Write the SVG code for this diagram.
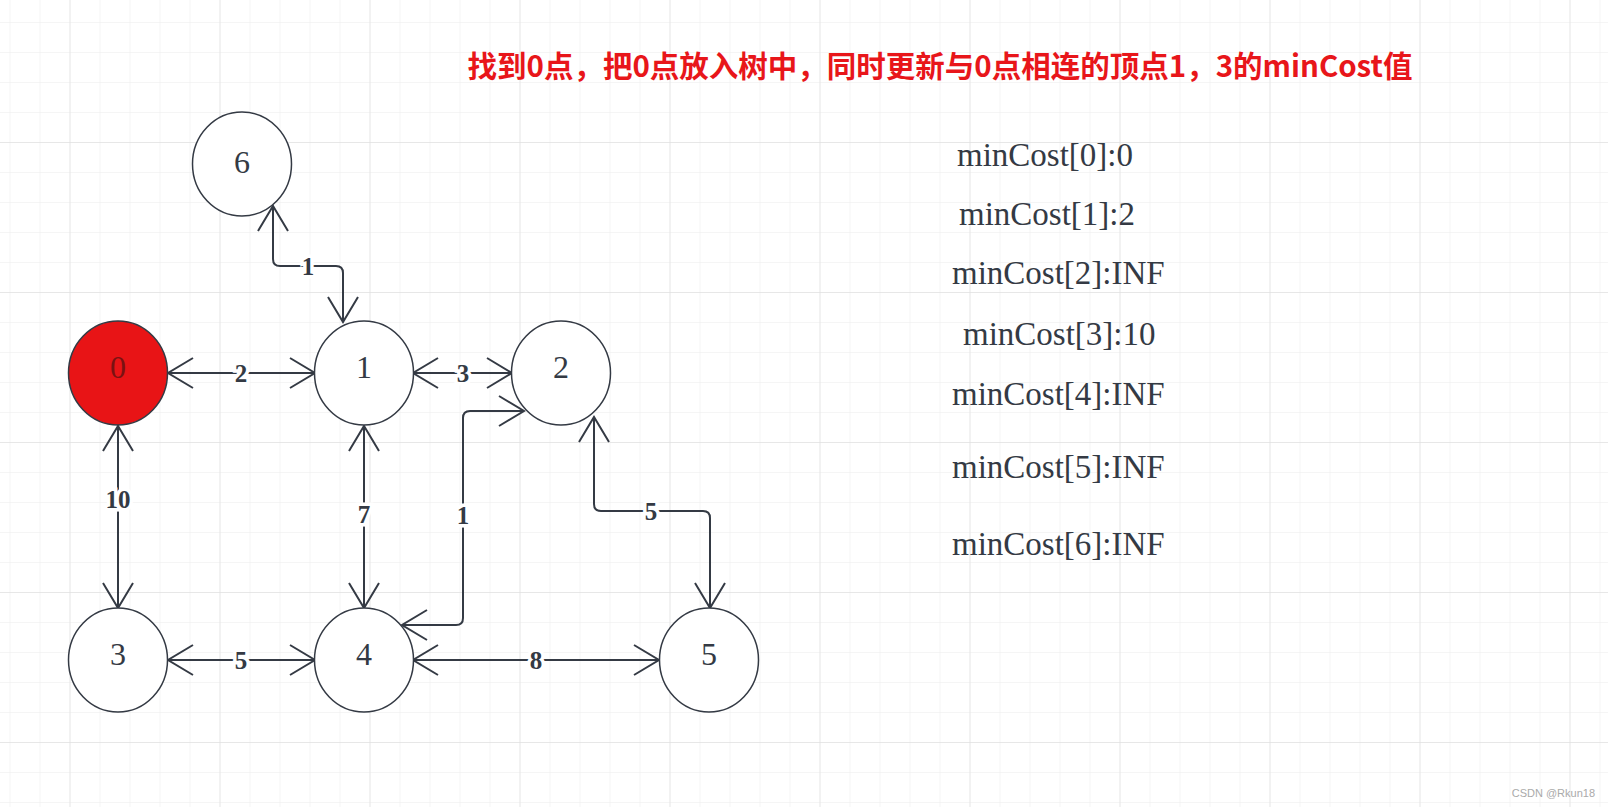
<svg xmlns="http://www.w3.org/2000/svg" width="1608" height="807" viewBox="0 0 1608 807">
<defs>
<pattern id="minor" width="30" height="30" patternUnits="userSpaceOnUse" x="9.5" y="22">
<path d="M0,0H30M0,0V30" fill="none" stroke="#ececec" stroke-width="1"/>
</pattern>
<pattern id="major" width="150" height="150" patternUnits="userSpaceOnUse" x="69.5" y="142">
<path d="M0,0H150M0,0V150" fill="none" stroke="#dadada" stroke-width="1"/>
</pattern>
<marker id="ar" viewBox="-27 -17 30 34" markerWidth="30" markerHeight="34" refX="0" refY="0" orient="auto-start-reverse" markerUnits="userSpaceOnUse">
<path d="M-25,-15L0,0L-25,15" fill="none" stroke="#343a44" stroke-width="2"/>
</marker>
</defs>
<style>
.node ellipse{fill:#fff;stroke:#343a44;stroke-width:1.5}
.node text{font-family:"Liberation Serif",serif;font-size:32px;fill:#343a44;text-anchor:middle}
.edge{fill:none;stroke:#343a44;stroke-width:2;marker-start:url(#ar);marker-end:url(#ar)}
.lbl{font-family:"Liberation Serif",serif;font-size:25px;font-weight:bold;fill:#343a44;text-anchor:middle;stroke:#fff;stroke-width:7;paint-order:stroke}
.mc{font-family:"Liberation Serif",serif;font-size:33px;fill:#343a44}
</style>
<rect width="1608" height="807" fill="#fff"/>
<rect width="1608" height="807" fill="url(#minor)"/>
<rect width="1608" height="807" fill="url(#major)"/>
<g id="connectors">
<path class="edge" d="M168,373H315"/>
<path class="edge" d="M413,373H512"/>
<path class="edge" d="M118,426V608"/>
<path class="edge" d="M364,426V608"/>
<path class="edge" d="M168,660H315"/>
<path class="edge" d="M413,660H659"/>
<path class="edge" d="M273,206V259Q273,266 280,266H336Q343,266 343,273V322"/>
<path class="edge" d="M402,625H456Q463,625 463,618V418Q463,411 470,411H524"/>
<path class="edge" d="M594,417V504Q594,511 601,511H703Q710,511 710,518V608"/>
<text class="lbl" x="241" y="382">2</text>
<text class="lbl" x="463" y="382">3</text>
<text class="lbl" x="118" y="508">10</text>
<text class="lbl" x="364" y="523">7</text>
<text class="lbl" x="241" y="669">5</text>
<text class="lbl" x="536" y="669">8</text>
<text class="lbl" x="308" y="275">1</text>
<text class="lbl" x="463" y="524">1</text>
<text class="lbl" x="651" y="520">5</text>
</g>
<g id="n6" class="node"><ellipse cx="242" cy="164" rx="49.5" ry="52"/><text x="242" y="173">6</text></g>
<g id="n0" class="node"><ellipse cx="118" cy="373" rx="49.5" ry="52" style="fill:#e81416"/><text x="118" y="378" style="fill:#7a1212">0</text></g>
<g id="n1" class="node"><ellipse cx="364" cy="373" rx="49.5" ry="52"/><text x="364" y="378">1</text></g>
<g id="n2" class="node"><ellipse cx="561" cy="373" rx="49.5" ry="52"/><text x="561" y="378">2</text></g>
<g id="n3" class="node"><ellipse cx="118" cy="660" rx="49.5" ry="52"/><text x="118" y="665">3</text></g>
<g id="n4" class="node"><ellipse cx="364" cy="660" rx="49.5" ry="52"/><text x="364" y="665">4</text></g>
<g id="n5" class="node"><ellipse cx="709" cy="660" rx="49.5" ry="52"/><text x="709" y="665">5</text></g>
<text x="940" y="77" text-anchor="middle" font-family="'Noto Sans CJK SC',sans-serif" font-size="29.5" font-weight="bold" fill="#e8161a">找到0点，把0点放入树中，同时更新与0点相连的顶点1，3的minCost值</text>
<g id="mincost">
<text class="mc" x="957" y="166">minCost[0]:0</text>
<text class="mc" x="959" y="225">minCost[1]:2</text>
<text class="mc" x="952" y="284">minCost[2]:INF</text>
<text class="mc" x="963" y="345">minCost[3]:10</text>
<text class="mc" x="952" y="405">minCost[4]:INF</text>
<text class="mc" x="952" y="478">minCost[5]:INF</text>
<text class="mc" x="952" y="555">minCost[6]:INF</text>
</g>
<text x="1595" y="797" text-anchor="end" font-family="'Liberation Sans',sans-serif" font-size="11" fill="#aaa">CSDN @Rkun18</text>
</svg>
